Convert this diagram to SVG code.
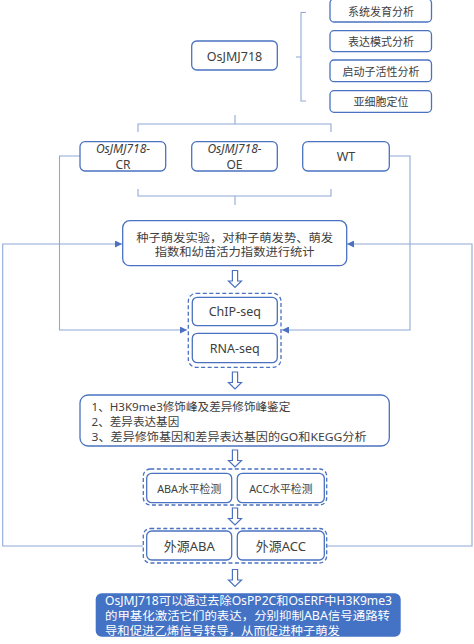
<svg xmlns="http://www.w3.org/2000/svg" width="474" height="644" viewBox="0 0 474 644">
<style>
.box{fill:#fff;stroke:#4a72c0;stroke-width:1.3}
.dash{fill:none;stroke:#4a72c0;stroke-width:1.3;stroke-dasharray:4 2.5}
.ln{fill:none;stroke:#90a8d8;stroke-width:1.1}
.t{font-family:"Noto Sans","Noto Sans CJK SC",sans-serif;fill:#404040;text-anchor:middle;dominant-baseline:central}
.tl{font-family:"Noto Sans","Noto Sans CJK SC",sans-serif;fill:#404040;dominant-baseline:central}
.tw{font-family:"Noto Sans","Noto Sans CJK SC",sans-serif;fill:#fff;dominant-baseline:central}
.ha{fill:#fff;stroke:#4a72c0;stroke-width:1.2}
</style>
<defs>
<marker id="ah" viewBox="0 0 8 8" refX="8" refY="4" markerWidth="7" markerHeight="7" markerUnits="userSpaceOnUse" orient="auto">
<path d="M0,0L8,4L0,8Z" fill="#4a72c0"/>
</marker>
<path id="harr" d="M-2.6,0H2.6V10.5H6.5L0,17L-6.5,10.5H-2.6Z"/>
</defs>
<rect width="474" height="644" fill="#fff"/>
<g id="connectors">
<path class="ln" d="M306,12.5H301V101H306M301,57H296"/>
<path class="ln" d="M235,115V124M138,132V124H331V132"/>
<path class="ln" d="M138,189V196H331V189M235,196V205"/>
<path class="ln" d="M80,156H59.5V330H187" marker-end="url(#ah)"/>
<path class="ln" d="M389.5,156H410V330H282" marker-end="url(#ah)"/>
<path class="ln" d="M143,546H2.7V244H122" marker-end="url(#ah)"/>
<path class="ln" d="M327,546H472V244H347" marker-end="url(#ah)"/>
<use href="#harr" class="ha" x="235" y="270.5"/>
<use href="#harr" class="ha" x="235" y="372"/>
<use href="#harr" class="ha" x="235" y="450"/>
<use href="#harr" class="ha" x="235" y="508"/>
<use href="#harr" class="ha" x="235" y="569.5"/>
</g>
<g id="n-phylo"><rect class="box" x="330" y="-1" width="101.5" height="23" rx="4"/><text class="t" x="381" y="11" font-size="11">系统发育分析</text></g>
<g id="n-expr"><rect class="box" x="330" y="30.7" width="101.5" height="21" rx="4"/><text class="t" x="381" y="41.5" font-size="11">表达模式分析</text></g>
<g id="n-prom"><rect class="box" x="330" y="60" width="101.5" height="21.7" rx="4"/><text class="t" x="381" y="71" font-size="11">启动子活性分析</text></g>
<g id="n-subcell"><rect class="box" x="330" y="90.7" width="101.5" height="21.6" rx="4"/><text class="t" x="381" y="101.5" font-size="11">亚细胞定位</text></g>
<g id="n-gene"><rect class="box" x="191.7" y="41" width="85.6" height="29" rx="5"/><text class="t" x="234.5" y="56" font-size="12.5">OsJMJ718</text></g>
<g id="n-cr"><rect class="box" x="80" y="141.7" width="85.7" height="29.3" rx="5"/><text class="t" x="123" y="148.5" font-size="12" font-style="italic">OsJMJ718-</text><text class="t" x="123" y="164.5" font-size="12">CR</text></g>
<g id="n-oe"><rect class="box" x="191.7" y="141.7" width="85.6" height="29.3" rx="5"/><text class="t" x="234.5" y="148.5" font-size="12" font-style="italic">OsJMJ718-</text><text class="t" x="234.5" y="164.5" font-size="12">OE</text></g>
<g id="n-wt"><rect class="box" x="302.7" y="141.7" width="86.6" height="29.3" rx="5"/><text class="t" x="346" y="156.5" font-size="12.5">WT</text></g>
<g id="n-germ"><rect class="box" x="122.7" y="220.7" width="224" height="45" rx="7"/><text class="t" x="234.7" y="236.5" font-size="11.8" textLength="197" lengthAdjust="spacingAndGlyphs">种子萌发实验，对种子萌发势、萌发</text><text class="t" x="234.7" y="251" font-size="11.8" textLength="160" lengthAdjust="spacingAndGlyphs">指数和幼苗活力指数进行统计</text></g>
<g id="n-seq"><rect class="dash" x="188.3" y="293.3" width="92.7" height="74" rx="8"/>
<rect class="box" x="192.3" y="297.3" width="85" height="28.4" rx="5"/><text class="t" x="234.8" y="311.5" font-size="12.5">ChIP-seq</text>
<rect class="box" x="192.3" y="333.3" width="85" height="29.4" rx="5"/><text class="t" x="234.8" y="348" font-size="12.5">RNA-seq</text></g>
<g id="n-analysis"><rect class="box" x="80" y="395" width="309.3" height="51" rx="8"/>
<text class="tl" x="91.5" y="406" font-size="11.6">1、H3K9me3修饰峰及差异修饰峰鉴定</text>
<text class="tl" x="91.5" y="421.5" font-size="11.6">2、差异表达基因</text>
<text class="tl" x="91.5" y="436.5" font-size="11.6" textLength="275" lengthAdjust="spacingAndGlyphs">3、差异修饰基因和差异表达基因的GO和KEGG分析</text></g>
<g id="n-level"><rect class="dash" x="143.3" y="469" width="183.4" height="36" rx="7"/>
<rect class="box" x="146.7" y="473.3" width="85" height="29.4" rx="5"/><text class="t" x="189.2" y="488" font-size="10.8">ABA水平检测</text>
<rect class="box" x="237.3" y="473.3" width="87" height="29.4" rx="5"/><text class="t" x="280.8" y="488" font-size="10.8">ACC水平检测</text></g>
<g id="n-exo"><rect class="dash" x="143.3" y="528.5" width="183.4" height="34.5" rx="7"/>
<rect class="box" x="146.7" y="531" width="85" height="29" rx="5"/><text class="t" x="189.2" y="545.5" font-size="13">外源ABA</text>
<rect class="box" x="237.3" y="531" width="87" height="29" rx="5"/><text class="t" x="280.8" y="545.5" font-size="13">外源ACC</text></g>
<g id="n-concl"><rect x="95.7" y="593.3" width="305" height="43.4" rx="6" fill="#4472c4"/>
<text class="tw" x="105" y="600" font-size="11.8" textLength="287" lengthAdjust="spacingAndGlyphs">OsJMJ718可以通过去除OsPP2C和OsERF中H3K9me3</text>
<text class="tw" x="105" y="615" font-size="11.8" textLength="285" lengthAdjust="spacingAndGlyphs">的甲基化激活它们的表达，分别抑制ABA信号通路转</text>
<text class="tw" x="105" y="629.5" font-size="11.8" textLength="235" lengthAdjust="spacingAndGlyphs">导和促进乙烯信号转导，从而促进种子萌发</text></g>
</svg>
